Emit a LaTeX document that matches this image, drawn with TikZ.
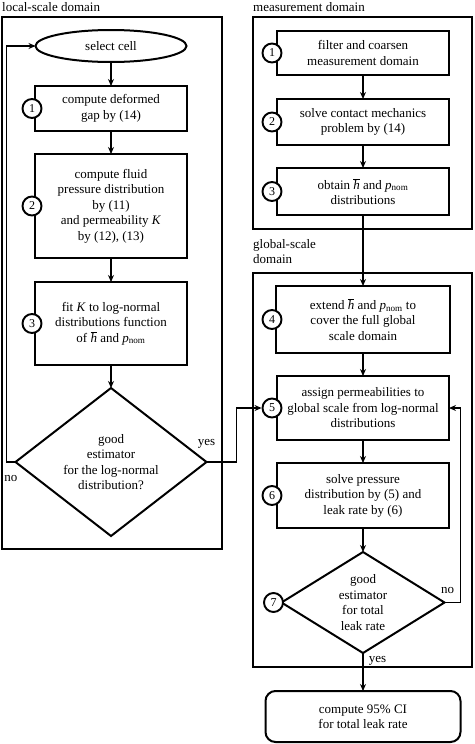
\documentclass[tikz,border=0pt]{standalone}
\usepackage{fontspec}
\setmainfont{Liberation Serif}
\usetikzlibrary{positioning, arrows.meta, shapes.geometric}
\newcommand{\hmean}{$\overline{\textit{h}}$}
\newcommand{\pnom}{\textit{p}\textsubscript{nom}}
\newcommand{\flowfont}{\fontsize{13}{15.5}\selectfont}
\tikzset{
  stepbox/.style={draw, line width=2pt, align=center, font=\flowfont, inner sep=3pt, outer sep=0pt},
  startnode/.style={draw, ellipse, line width=2pt, align=center, font=\flowfont, inner sep=0pt, outer sep=0pt, minimum width=151pt, minimum height=32pt},
  decision/.style={draw, diamond, line width=2pt, align=center, font=\flowfont, inner sep=0pt, outer sep=0pt},
  endbox/.style={draw, rounded corners=10pt, line width=2pt, align=center, font=\flowfont, inner sep=3pt, outer sep=0pt},
  domframe/.style={draw, line width=1.8pt, inner sep=0pt, outer sep=0pt},
  domlabel/.style={anchor=south west, inner sep=0pt, align=left, font=\flowfont},
  num/.style={draw, circle, fill=white, line width=1.9pt, minimum size=19pt, inner sep=0pt, font=\fontsize{12}{12}\selectfont},
  lbl/.style={inner sep=0pt, font=\flowfont},
  arrow/.style={-{Stealth[length=7pt, width=6pt]}, line width=1.9pt},
}
\begin{document}
\begin{tikzpicture}[x=1pt, y=1pt]
  \useasboundingbox (0,0) rectangle (474,-744);
  % Domain frames
  \node[domframe, minimum width=220pt, minimum height=532pt] (localdom) at (112,-283) {};
  \node[domframe, minimum width=219pt, minimum height=212pt] (measdom) at (362.5,-123) {};
  \node[domframe, minimum width=219pt, minimum height=394pt] (globdom) at (362.5,-470) {};
  \node[domlabel, yshift=5pt] (loclab) at (localdom.north west) {local-scale domain};
  \node[domlabel, yshift=5pt] (measlab) at (measdom.north west) {measurement domain};
  \node[domlabel, yshift=9pt] (globlab) at (globdom.north west) {global-scale\\domain};

  % Local-scale loop
  \node[startnode] (sel) at (111,-46) {select cell};
  \node[stepbox, below=24pt of sel, minimum width=152pt, minimum height=45pt] (l1)
    {compute deformed\\gap by (14)};
  \node[stepbox, below=23pt of l1, minimum width=152pt, minimum height=104pt] (l2)
    {compute fluid\\pressure distribution\\by (11)\\and permeability \textit{K}\\by (12), (13)};
  \node[stepbox, below=24pt of l2, minimum width=152pt, minimum height=83pt] (l3)
    {fit \textit{K} to log-normal\\distributions function\\of \hmean{} and \pnom};
  \node[decision, below=23pt of l3, minimum width=191pt, minimum height=148pt, shape aspect=1.29] (d1)
    {good\\estimator\\for the log-normal\\distribution?};

  % Measurement domain
  \node[stepbox, minimum width=172pt, minimum height=44pt] (m1) at (363,-53)
    {filter and coarsen\\measurement domain};
  \node[stepbox, below=24pt of m1, minimum width=172pt, minimum height=46pt] (m2)
    {solve contact mechanics\\problem by (14)};
  \node[stepbox, below=23pt of m2, minimum width=172pt, minimum height=47pt] (m3)
    {obtain \hmean{} and \pnom\\distributions};

  % Global-scale domain
  \node[stepbox, below=71pt of m3, minimum width=174pt, minimum height=67pt] (g4)
    {extend \hmean{} and \pnom{} to\\cover the full global\\scale domain};
  \node[stepbox, below=23pt of g4, minimum width=172pt, minimum height=64pt] (g5)
    {assign permeabilities to\\global scale from log-normal\\distributions};
  \node[stepbox, below=23pt of g5, minimum width=172pt, minimum height=65pt] (g6)
    {solve pressure\\distribution by (5) and\\leak rate by (6)};
  \node[decision, below=24pt of g6, minimum width=163pt, minimum height=101pt, shape aspect=1.61] (d2)
    {good\\estimator\\for total\\leak rate};
  \node[endbox, below=38pt of d2, minimum width=195pt, minimum height=51pt] (fin)
    {compute 95\% CI\\for total leak rate};

  % Edges
  \draw[arrow] (sel) -- (l1);
  \draw[arrow] (l1) -- (l2);
  \draw[arrow] (l2) -- (l3);
  \draw[arrow] (l3) -- (d1);
  \draw[arrow] (d1.west) -- node[lbl, below=12pt] {no} ++(-9,0) |- (sel.west);
  \draw[arrow] (m1) -- (m2);
  \draw[arrow] (m2) -- (m3);
  \draw[arrow] (m3) -- (g4);
  \draw[arrow] (g4) -- (g5);
  \draw[arrow] (g5) -- (g6);
  \draw[arrow] (g6) -- (d2);
  \draw[arrow] (d2.east) -- node[lbl, pos=0.2, above=8pt] {no} ++(16,0) |- (g5.east);
  \draw[arrow] (d2.south) -- node[lbl, pos=0, anchor=north west, xshift=5pt, yshift=-2pt] {yes} (fin.north);

  % Step numbers
  \node[num] (c1) at ([xshift=-3pt]l1.west) {1};
  \node[num] (c2) at ([xshift=-3pt]l2.west) {2};
  \node[num] (c3) at ([xshift=-3pt]l3.west) {3};
  \node[num] (n1) at ([xshift=-5pt]m1.west) {1};
  \node[num] (n2) at ([xshift=-5pt]m2.west) {2};
  \node[num] (n3) at ([xshift=-5pt]m3.west) {3};
  \node[num] (n4) at ([xshift=-4pt]g4.west) {4};
  \node[num] (n5) at ([xshift=-5pt]g5.west) {5};
  \node[num] (n6) at ([xshift=-5pt]g6.west) {6};
  \node[num] (n7) at ([xshift=-8pt]d2.west) {7};

  \draw[arrow] (d1.east) -- node[lbl, pos=0, above=13pt] {yes} ++(30,0) |- (n5.west);
\end{tikzpicture}
\end{document}
